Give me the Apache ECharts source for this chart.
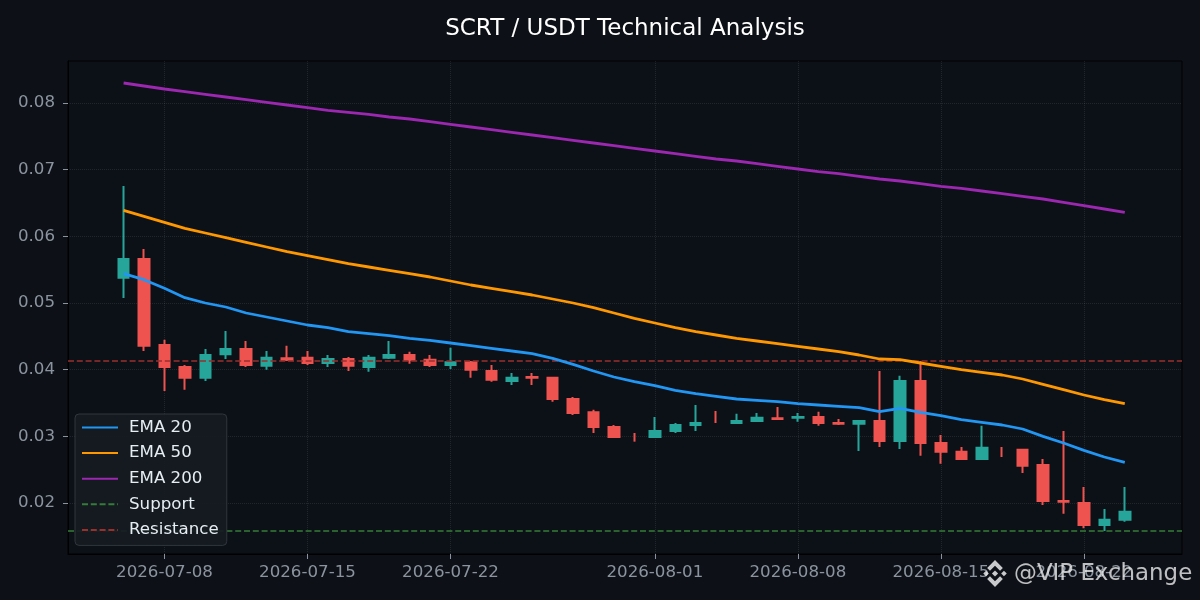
<!DOCTYPE html>
<html>
<head>
<meta charset="utf-8">
<style>html,body{margin:0;padding:0;background:#0d1117}#c{width:1200px;height:600px}</style>
<script src="https://cdn.jsdelivr.net/npm/echarts@6/dist/echarts.min.js"></script>
</head>
<body>
<div id="c"></div>
<script>
// Day 0 is 2026-07-06; one candle per day
const dayIndex = Array.from({length: 50}, (_, i) => i);
const opens  = [.0538,.0566,.0437,.0404,.0388,.0423,.0431,.0406,.0417,.0418,.0410,.0416,.0404,.0418,.0422,.0415,.0407,.0411,.0398,.0383,.0389,.0388,.0356,.0336,.0314,.0298,.0299,.0308,.0317,.0329,.0320,.0323,.0327,.0328,.0329,.0320,.0319,.0323,.0293,.0383,.0290,.0277,.0266,.0276,.0280,.0257,.0203,.0200,.0167,.0175];
const closes = [.0566,.0436,.0404,.0388,.0422,.0431,.0407,.0418,.0415,.0410,.0416,.0406,.0418,.0422,.0415,.0407,.0411,.0400,.0385,.0388,.0388,.0356,.0335,.0314,.0299,.0298,.0308,.0317,.0320,.0329,.0323,.0328,.0326,.0329,.0320,.0319,.0323,.0293,.0383,.0290,.0277,.0266,.0283,.0276,.0256,.0203,.0202,.0167,.0175,.0187];
const lows   = [.05075,.0428,.0368,.0370,.0383,.0416,.0404,.0400,.0413,.0407,.0404,.0398,.0397,.0416,.0409,.0404,.0401,.0388,.0382,.0377,.0377,.0352,.0332,.0305,.0299,.0292,.0299,.0305,.0308,.0320,.0319,.0323,.0326,.0322,.0316,.0317,.0278,.0284,.0281,.0271,.0259,.0266,.0266,.0269,.0245,.0197,.0184,.0162,.0158,.0172];
const highs  = [.06755,.0581,.0445,.0407,.0431,.0458,.0443,.0428,.0436,.0428,.0422,.0419,.0422,.0443,.0427,.0422,.0433,.0413,.0407,.0395,.0395,.0389,.0359,.0340,.0317,.0305,.0329,.0320,.0347,.0338,.0334,.0335,.0344,.0335,.0337,.0326,.0323,.0398,.0391,.0413,.0302,.0284,.0316,.0284,.0281,.0266,.0308,.0224,.0191,.0224];
const ema20  = [.0544,.0535,.0522,.0508,.0500,.0494,.0485,.0479,.0473,.0467,.0463,.0457,.0454,.0451,.0447,.0444,.0440,.0436,.0432,.0428,.0424,.0417,.0408,.0398,.0389,.0382,.0376,.0369,.0364,.0360,.0356,.0354,.0352,.0349,.0347,.0345,.0343,.0337,.0342,.0336,.0331,.0325,.0321,.0317,.0311,.0300,.0290,.0279,.0269,.0261];
const ema50  = [.0639,.0630,.0621,.0612,.0605,.0598,.0591,.0584,.0577,.0571,.0565,.0559,.0554,.0549,.0544,.0539,.0533,.0527,.0522,.0517,.0512,.0506,.0500,.0493,.0485,.0477,.0470,.0463,.0457,.0452,.0447,.0443,.0439,.0435,.0431,.0427,.0422,.0416,.0415,.0410,.0405,.0400,.0396,.0392,.0386,.0378,.0370,.0362,.0355,.0349];
const ema200 = [.0830,.08255,.0821,.0817,.0813,.0809,.0805,.0801,.0797,.0793,.0789,.0786,.0783,.0779,.0776,.0772,.0768,.0764,.0760,.0756,.0752,.0748,.0744,.0740,.0736,.0732,.0728,.0724,.0720,.0716,.0713,.0709,.0705,.0701,.0697,.0694,.0690,.0686,.0683,.0679,.0675,.0672,.0668,.0664,.0660,.0656,.0651,.0646,.0641,.0636];
const supportLevel = 0.0158;
const resistanceLevel = 0.0413;
const xTickDays = [2, 9, 16, 26, 33, 40, 47];
const xTickLabels = ['2026-07-08','2026-07-15','2026-07-22','2026-08-01','2026-08-08','2026-08-15','2026-08-22'];
const yTicks = [0.02, 0.03, 0.04, 0.05, 0.06, 0.07, 0.08];

const xMin = -2.72, xMax = 51.8, yMin = 0.01235, yMax = 0.0863;
const UP = '#26a69a', DOWN = '#ef5350', GRID = 'rgba(139,148,158,0.17)', TICKTXT = '#8b949e';
const row = i => [dayIndex[i], opens[i], closes[i], lows[i], highs[i]];
const candleRows = dayIndex.map(row).filter(r => r[1] !== r[2]);
const wickRows = dayIndex.map(row).filter(r => r[1] === r[2]);
const candleStyle = {color: UP, color0: DOWN, borderColor: UP, borderColor0: DOWN, borderColorDoji: DOWN, borderWidth: 2};
const lineSeries = (name, values, color) => ({
  name, type: 'line', data: dayIndex.map(i => [i, values[i]]), symbol: 'none', z: 5,
  lineStyle: {color, width: 2.8}, itemStyle: {color}
});
const levelSeries = (name, level, color) => ({
  name, type: 'line', data: [[xMin, level], [xMax, level]], symbol: 'none', z: 4,
  lineStyle: {color, width: 1.7, type: [6, 2.8]}, itemStyle: {color}
});
const logoPieces = [
  [[50,22],[32,40],[22,30],[50,2],[78,30],[68,40]],
  [[50,78],[32,60],[22,70],[50,98],[78,70],[68,60]],
  [[8,50],[18,40],[28,50],[18,60]],
  [[72,50],[82,40],[92,50],[82,60]],
  [[50,39],[61,50],[50,61],[39,50]]
];

const chart = echarts.init(document.getElementById('c'), null, {renderer: 'canvas'});
chart.setOption({
  animation: false,
  backgroundColor: '#0d1117',
  textStyle: {fontFamily: 'DejaVu Sans'},
  title: {
    text: 'SCRT / USDT Technical Analysis', left: 620, top: 13, textAlign: 'center',
    textStyle: {color: '#ffffff', fontSize: 23, fontWeight: 'normal', fontFamily: 'DejaVu Sans'}
  },
  grid: {left: 68, right: 18, top: 61, bottom: 46, show: true, backgroundColor: '#0c1017', borderColor: '#000', borderWidth: 1},
  xAxis: {
    type: 'value', min: xMin, max: xMax, scale: true,
    axisLine: {show: true, onZero: false, lineStyle: {color: '#000'}},
    axisTick: {show: true, length: 5, customValues: xTickDays, lineStyle: {color: TICKTXT}},
    axisLabel: {
      customValues: xTickDays, color: TICKTXT, fontSize: 16.67, margin: 10, fontFamily: 'DejaVu Sans',
      formatter: v => xTickLabels[xTickDays.indexOf(v)]
    },
    splitLine: {show: true, lineStyle: {color: GRID, type: 'dotted', width: 1}}
  },
  yAxis: {
    type: 'value', min: yMin, max: yMax, scale: true,
    axisLine: {show: true, onZero: false, lineStyle: {color: '#000'}},
    axisTick: {show: true, length: 5, customValues: yTicks, lineStyle: {color: TICKTXT}},
    axisLabel: {
      customValues: yTicks, color: TICKTXT, fontSize: 16.67, margin: 13, fontFamily: 'DejaVu Sans',
      formatter: v => v.toFixed(2)
    },
    splitLine: {show: true, lineStyle: {color: GRID, type: 'dotted', width: 1}}
  },
  legend: {
    orient: 'vertical', left: 75, top: 414, padding: [5, 8, 7, 6], itemGap: 8.6, z: 20,
    itemWidth: 36, itemHeight: 14, backgroundColor: 'rgba(22,27,34,0.92)',
    borderColor: '#30363d', borderWidth: 1, borderRadius: 4,
    itemStyle: {opacity: 0},
    data: ['EMA 20', 'EMA 50', 'EMA 200', 'Support', 'Resistance'],
    textStyle: {color: '#e6edf3', fontSize: 16.67, fontFamily: 'DejaVu Sans', padding: [0, 0, 0, 6]}
  },
  series: [
    {name: 'SCRT/USDT', type: 'candlestick', barWidth: 11, z: 2, data: candleRows,
     encode: {x: 0, y: [1, 2, 3, 4]}, itemStyle: candleStyle},
    {name: 'SCRT/USDT wicks', type: 'candlestick', barWidth: 0.01, z: 2, data: wickRows,
     encode: {x: 0, y: [1, 2, 3, 4]}, itemStyle: candleStyle},
    lineSeries('EMA 20', ema20, '#2196f3'),
    lineSeries('EMA 50', ema50, '#ff9800'),
    lineSeries('EMA 200', ema200, '#9c27b0'),
    levelSeries('Support', supportLevel, '#367c39'),
    levelSeries('Resistance', resistanceLevel, '#9a2f2c')
  ],
  graphic: [
    {type: 'group', x: 981, y: 559.5, scaleX: 0.28, scaleY: 0.28, z: 100,
     children: logoPieces.map(points => ({type: 'polygon', z: 100, shape: {points}, style: {fill: 'rgba(235,235,235,0.85)'}}))},
    {type: 'text', z: 100, x: 1014, y: 574, style: {text: '@VIP Exchange', fill: 'rgba(235,235,235,0.8)',
     font: '22.9px "DejaVu Sans"', verticalAlign: 'middle'}}
  ]
});
</script>
</body>
</html>
